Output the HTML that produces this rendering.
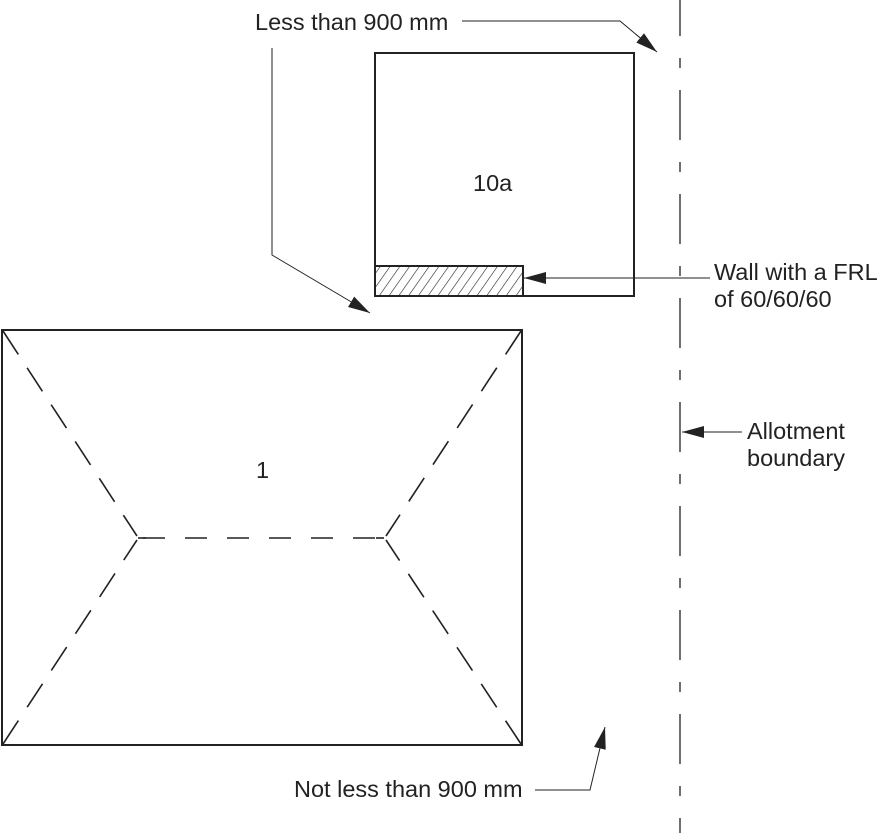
<!DOCTYPE html>
<html><head><style>body{margin:0;background:#fff}svg{display:block}text{font-family:"Liberation Sans",sans-serif;font-size:23.5px;fill:#222}</style></head><body>
<svg width="878" height="833" viewBox="0 0 878 833">
<defs>
<marker id="b" markerWidth="22" markerHeight="12" refX="22" refY="6" orient="auto" markerUnits="userSpaceOnUse"><path d="M0,0 L22,6 L0,12 Z" fill="#222"/></marker>
<pattern id="h" width="8" height="8" patternUnits="userSpaceOnUse" patternTransform="rotate(35)"><line x1="0" y1="0" x2="0" y2="8" stroke="#222" stroke-width="1.2"/></pattern></defs>
<g stroke="#222" fill="none">
<line x1="680" y1="-14" x2="680" y2="833" stroke-width="1.3" stroke-dasharray="50,22,10,22"/>
<rect x="375" y="53" width="259" height="243" stroke-width="2"/>
<rect x="375" y="266" width="148" height="30" fill="url(#h)" stroke-width="2"/>
<rect x="2" y="330" width="520" height="415" stroke-width="2"/>
<g stroke-width="1.6" stroke-dasharray="28,16">
<line x1="3" y1="331" x2="137" y2="536"/>
<line x1="3" y1="744" x2="137" y2="540"/>
<line x1="521" y1="331" x2="386" y2="536"/>
<line x1="521" y1="744" x2="386" y2="540"/>
<line x1="143" y1="538" x2="383" y2="538" stroke-dasharray="22,20"/>
</g>
<line x1="138" y1="538" x2="146" y2="538" stroke-width="1.6"/>
<line x1="376" y1="538" x2="384" y2="538" stroke-width="1.6"/>
<polyline points="462,21 620,21 657,52" stroke-width="1" marker-end="url(#b)"/>
<polyline points="272,48 272,255 370,313" stroke-width="1" marker-end="url(#b)"/>
<line x1="710" y1="278" x2="524" y2="278" stroke-width="1" marker-end="url(#b)"/>
<line x1="742" y1="432" x2="682" y2="432" stroke-width="1" marker-end="url(#b)"/>
<polyline points="535,790 590,790 605,727" stroke-width="1" marker-end="url(#b)"/>
</g>
<text x="255" y="30">Less than 900 mm</text>
<text x="473" y="191">10a</text>
<text x="256" y="478">1</text>
<text x="714" y="280">Wall with a FRL</text>
<text x="714" y="307">of 60/60/60</text>
<text x="747" y="439">Allotment</text>
<text x="747" y="466">boundary</text>
<text x="294" y="797">Not less than 900 mm</text>
</svg></body></html>
